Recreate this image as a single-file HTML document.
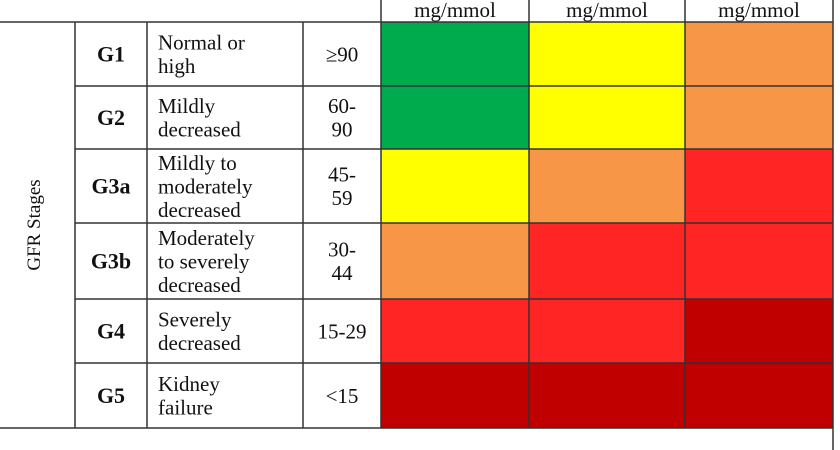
<!DOCTYPE html>
<html><head><meta charset="utf-8"><style>
body{margin:0;background:#fff;}
svg{display:block;font-family:"Liberation Serif",serif;}
</style></head><body>
<svg id="c" width="840" height="450">
<text x="40" y="225" font-size="19" text-anchor="middle" transform="rotate(-90 40 225)" fill="#111">GFR Stages</text>
</svg>
<script>
const stages=["G1","G2","G3a","G3b","G4","G5"];
const descriptions=[["Normal or","high"],["Mildly","decreased"],["Mildly to","moderately","decreased"],["Moderately","to severely","decreased"],["Severely","decreased"],["Kidney","failure"]];
const gfrRanges=[["≥90"],["60-","90"],["45-","59"],["30-","44"],["15-29"],["<15"]];
const columnLabels=["mg/mmol","mg/mmol","mg/mmol"];
const riskLevels=[[0,1,2],[0,1,2],[1,2,3],[2,3,3],[3,3,4],[4,4,4]];
const riskColors=["#00ab4e","#ffff00","#f79646","#ff2525","#c00000"];
const rowEdges=[22,86,149,223,299,363,428];
const colEdges=[381,529,685,833];
const svg=document.getElementById('c');const NS="http://www.w3.org/2000/svg";
function mk(t,a){const e=document.createElementNS(NS,t);for(const k in a)e.setAttribute(k,a[k]);svg.appendChild(e);return e;}
function txt(lines,x,yc,anchor,size,bold,name,lhf){const lh=size*(lhf||1.12);const y0=yc-(lines.length-1)*lh/2+size*0.35;
lines.forEach((l,i)=>{const t=mk('text',{x:x,y:y0+i*lh,'text-anchor':anchor,'font-size':size,'font-weight':bold?'bold':'normal',fill:'#111'});


t.textContent=l;});}
riskLevels.forEach((row,r)=>row.forEach((v,c)=>{
const rc=mk('rect',{x:colEdges[c],y:rowEdges[r],width:colEdges[c+1]-colEdges[c],height:rowEdges[r+1]-rowEdges[r],fill:riskColors[v]});


}));
columnLabels.forEach((l,c)=>{const x=(colEdges[c]+colEdges[c+1])/2;
const t=mk('text',{x:x,y:17,'text-anchor':'middle','font-size':21,fill:'#111'});


t.textContent=l;});
stages.forEach((s,r)=>{const yc=(rowEdges[r]+rowEdges[r+1])/2;
txt([s],111,yc,'middle',22,true,'stage-label');
txt(descriptions[r],158,yc,'start',21,false,'stage-description');
txt(gfrRanges[r],342,yc,'middle',21,false,'gfr-range');});
const ln=(x1,y1,x2,y2,w)=>{const l=mk('line',{x1,y1,x2,y2,stroke:'#333','stroke-width':w||1.5});

};
ln(0,22,833,22);ln(0,428,833,428);
rowEdges.slice(1,-1).forEach(y=>ln(75,y,833,y));
[75,147,303].forEach(x=>ln(x,22,x,428));
colEdges.forEach(x=>ln(x,0,x,428));
ln(833,428,833,450);
</script>
</body></html>
